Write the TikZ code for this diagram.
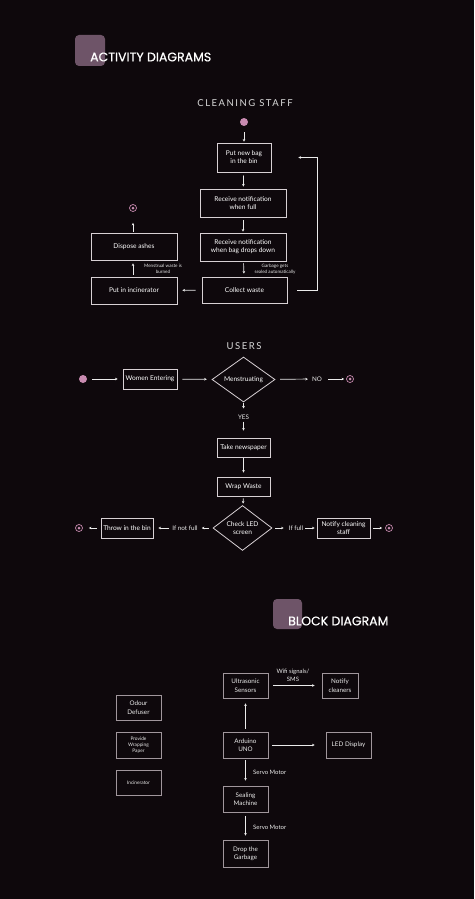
\documentclass[tikz,border=0pt]{standalone}
\usepackage{fontspec}
\setmainfont{Lato}
\newfontfamily\lato{Lato}
\newfontfamily\latosp[LetterSpace=16]{Lato}
\newfontfamily\pop[FakeBold=0.6]{Poppins}
\usetikzlibrary{arrows.meta,shapes.geometric}
\definecolor{bg}{RGB}{14,8,12}
\definecolor{pinkc}{RGB}{201,139,177}
\definecolor{sq}{RGB}{110,84,104}
\definecolor{lineA}{RGB}{215,208,212}
\definecolor{lineB}{RGB}{160,150,156}
\tikzset{
  box/.style={draw=lineA, line width=0.8pt, text=white, align=center, inner sep=0pt,
    font=\lato\fontsize{6.6}{8}\selectfont},
  bbox/.style={draw=lineB, line width=0.7pt, text=white!92!black, align=center, inner sep=0pt,
    font=\lato\fontsize{6.3}{8.5}\selectfont, minimum width=45pt},
  dia/.style={draw=lineA, line width=0.8pt, shape=diamond, text=white, align=center, inner sep=0pt,
    font=\lato\fontsize{6.6}{8}\selectfont},
  arr/.style={draw=white!92!black, line width=0.7pt, -{Stealth[length=2.6pt,width=2.6pt]}},
  lbl/.style={text=white!92!black, inner sep=0pt, font=\lato\fontsize{6.3}{8}\selectfont, align=center},
  tiny/.style={text=white!90!black, inner sep=0pt, font=\lato\fontsize{4.6}{5.6}\selectfont, align=center},
  startdot/.style={circle, fill=pinkc, inner sep=0pt, minimum size=8pt},
  enddot/.style={circle, draw=pinkc, line width=0.7pt, inner sep=0pt, minimum size=7pt,
    path picture={\fill[pinkc] (path picture bounding box.center) circle (1.5pt);}},
  title/.style={text=white, inner sep=0pt, font=\pop\fontsize{12.5}{14}\selectfont, anchor=west},
  sqr/.style={fill=sq, rounded corners=4pt}
}
\begin{document}
\begin{tikzpicture}[x=1pt,y=-1pt]
\fill[bg] (0,0) rectangle (474,899);
\useasboundingbox (0,0) rectangle (474,899);

% ---------- titles ----------
\fill[sqr] (75,35) rectangle (105,66);
\node[title] (t1) at (90,57) {ACTIVITY DIAGRAMS};
\node[text=white!85!black, inner sep=0pt, font=\latosp\fontsize{9.5}{11}\selectfont] (t2) at (245,103) {CLEANING STAFF};

% ---------- cleaning staff ----------
\node[startdot] (s1) at (244,122) {};
\node[box, minimum width=54pt, minimum height=29pt] (b1) at (244,157.5) {Put new bag\\in the bin};
\node[box, minimum width=86pt, minimum height=28pt] (b2) at (243,203) {Receive notification\\when full};
\node[box, minimum width=86pt, minimum height=28pt] (b3) at (243,247) {Receive notification\\when bag drops down};
\node[box, minimum width=85pt, minimum height=26pt] (b4) at (244.5,290) {Collect waste};
\node[box, minimum width=86pt, minimum height=27pt] (b5) at (134,290.5) {Put in incinerator};
\node[box, minimum width=86pt, minimum height=27pt] (b6) at (134,246.5) {Dispose ashes};
\node[enddot] (e1) at (133,208) {};
\node[tiny] (l1) at (275,269) {Garbage gets\\sealed automatically};
\node[tiny] (l2) at (163,269) {Menstrual waste is\\burned};

\draw[arr, shorten <=6pt, shorten >=1pt] (s1) -- (b1);
\draw[arr, shorten <=3pt, shorten >=2pt] (b1) -- (b2);
\draw[arr, shorten <=3pt, shorten >=1pt] (b2) -- (b3);
\draw[arr, shorten <=2pt, shorten >=3pt] (b3) -- (b4);
\draw[arr, shorten <=6pt, shorten >=5pt] (b4) -- (b5);
\draw[arr, shorten <=2pt, shorten >=3pt] (b5.north -| 133,0) -- (b6.south -| 133,0);
\draw[arr, shorten <=1pt, shorten >=11pt] (b6.north -| 133,0) -- (e1);
\draw[arr, shorten <=10pt, shorten >=27pt] (b4.east) -- ++(30,0) |- (b1.east);

% ---------- users ----------
\node[text=white!85!black, inner sep=0pt, font=\latosp\fontsize{9.5}{11}\selectfont] (t3) at (244,346) {USERS};
\node[startdot] (u0) at (83,379) {};
\node[box, minimum width=54pt, minimum height=20pt] (u1) at (150,379) {Women Entering};
\node[dia, minimum width=63pt, minimum height=35pt] (u2) at (243.5,379.5) {Menstruating};
\node[lbl] (no) at (317,379) {NO};
\node[enddot] (e2) at (350,379) {};
\node[lbl] (yes) at (243.5,417) {YES};
\node[box, minimum width=53pt, minimum height=19pt] (u3) at (243.5,447.5) {Take newspaper};
\node[box, minimum width=53pt, minimum height=19pt] (u4) at (243.5,486.5) {Wrap Waste};
\node[dia, minimum width=59pt, minimum height=38pt] (u5) at (242.5,528) {Check LED\\screen};
\node[lbl] (nf) at (185,528) {If not full};
\node[box, minimum width=52pt, minimum height=20pt] (u6) at (127,528) {Throw in the bin};
\node[enddot] (e3) at (79,528) {};
\node[lbl] (fu) at (296,528) {If full};
\node[box, minimum width=53pt, minimum height=20pt] (u7) at (343.5,528) {Notify cleaning\\staff};
\node[enddot] (e4) at (389,528) {};

\draw[arr, shorten <=5pt, shorten >=5pt] (u0) -- (u1);
\draw[arr, shorten <=5pt, shorten >=5pt] (u1) -- (u2);
\draw[arr, shorten <=5pt, shorten >=4pt] (u2) -- (no);
\draw[arr, shorten <=6pt, shorten >=2pt] (no) -- (e2);
\draw[arr, shorten <=1pt, shorten >=6pt] (u2) -- (yes);
\draw[arr, shorten <=2pt, shorten >=7pt] (yes) -- (u3);
\draw[arr, shorten <=1pt, shorten >=4pt] (u3) -- (u4);
\draw[arr, shorten <=2pt, shorten >=2pt] (u4) -- (u5);
\draw[arr, shorten <=4pt, shorten >=4pt] (u5) -- (nf);
\draw[arr, shorten <=3pt, shorten >=5pt] (nf) -- (u6);
\draw[arr, shorten <=4pt, shorten >=6pt] (u6) -- (e3);
\draw[arr, shorten <=3pt, shorten >=5pt] (u5) -- (fu);
\draw[arr, shorten <=2pt, shorten >=2pt] (fu) -- (u7);
\draw[arr, shorten <=3pt, shorten >=3pt] (u7) -- (e4);

% ---------- block diagram ----------
\fill[sqr] (273,599) rectangle (302,629);
\node[title] (t4) at (288,621) {BLOCK DIAGRAM};

\node[bbox, minimum height=25pt] (k1) at (245.5,685.5) {Ultrasonic\\Sensors};
\node[bbox, minimum width=36pt, minimum height=25pt] (k2) at (340,685.5) {Notify\\cleaners};
\node[bbox, minimum height=25pt] (k3) at (138.5,707.5) {Odour\\Defuser};
\node[bbox, minimum height=26pt, font=\lato\fontsize{4.8}{6.3}\selectfont] (k4) at (138.5,745) {Provide\\Wrapping\\Paper};
\node[bbox, minimum height=26pt] (k5) at (245.5,745) {Arduino\\UNO};
\node[bbox, minimum height=26pt] (k6) at (348.5,745) {LED Display};
\node[bbox, minimum height=25pt, font=\lato\fontsize{4.8}{6}\selectfont] (k7) at (138.5,782.5) {Incinerator};
\node[bbox, minimum height=26pt] (k8) at (245.5,799) {Sealing\\Machine};
\node[bbox, minimum height=27pt] (k9) at (245.5,853.5) {Drop the\\Garbage};
\node[lbl, font=\lato\fontsize{6}{8}\selectfont] (w1) at (293,675.5) {Wifi signals/\\SMS};
\node[lbl, anchor=west, font=\lato\fontsize{6}{8}\selectfont] (sv1) at (253,772) {Servo Motor};
\node[lbl, anchor=west, font=\lato\fontsize{6}{8}\selectfont] (sv2) at (253,827) {Servo Motor};

\draw[arr, shorten <=5pt, shorten >=7pt] (k1) -- (k2);
\draw[arr, shorten <=3pt, shorten >=5pt] (k5) -- (k1);
\draw[arr, shorten <=4pt, shorten >=11pt] (k5) -- (k6);
\draw[arr, shorten <=2pt, shorten >=5pt] (k5) -- (k8);
\draw[arr, shorten <=4pt, shorten >=4pt] (k8) -- (k9);
\end{tikzpicture}
\end{document}
